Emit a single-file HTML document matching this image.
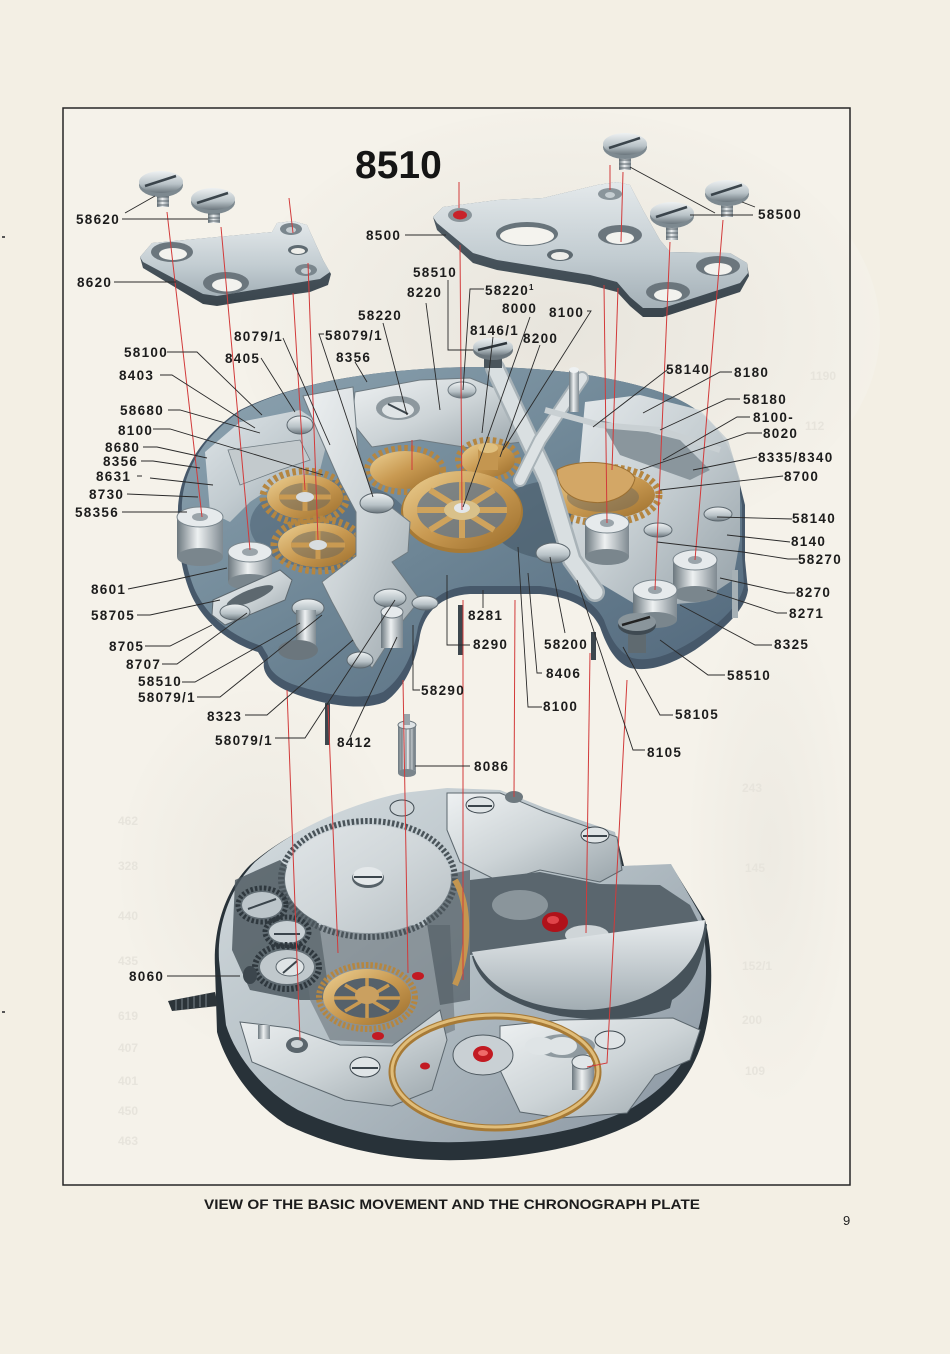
<!DOCTYPE html>
<html><head><meta charset="utf-8"><style>
html,body{margin:0;padding:0;background:#f3efe4;}
svg{display:block}
.l{font-family:"Liberation Sans",sans-serif;font-weight:bold;font-size:13.5px;letter-spacing:1.3px;fill:#1c1c1c}
.ld{fill:none;stroke:#2a2a2a;stroke-width:0.9}
.rd{fill:none;stroke:#d23a3a;stroke-width:1}
.gh{font-family:"Liberation Sans",sans-serif;font-weight:bold;font-size:12px;fill:#e7e4dc}
</style></head><body>
<svg width="950" height="1354" viewBox="0 0 950 1354" xmlns="http://www.w3.org/2000/svg">
<defs>
<linearGradient id="plate" x1="0" y1="0" x2="0" y2="1"><stop offset="0" stop-color="#e4e9eb"/><stop offset="0.6" stop-color="#c2ccd1"/><stop offset="1" stop-color="#a4b0b7"/></linearGradient>
<linearGradient id="plateEdge" x1="0" y1="0" x2="0" y2="1"><stop offset="0" stop-color="#56636c"/><stop offset="1" stop-color="#3a454d"/></linearGradient>
<linearGradient id="blue" x1="0" y1="0" x2="1" y2="1"><stop offset="0" stop-color="#8fa5b2"/><stop offset="0.5" stop-color="#6d8595"/><stop offset="1" stop-color="#50667a"/></linearGradient>
<linearGradient id="silver" x1="0" y1="0" x2="1" y2="1"><stop offset="0" stop-color="#eef1f2"/><stop offset="0.5" stop-color="#cdd4d7"/><stop offset="1" stop-color="#9aa5ab"/></linearGradient>
<linearGradient id="cyl" x1="0" y1="0" x2="1" y2="0"><stop offset="0" stop-color="#6b777e"/><stop offset="0.45" stop-color="#eef1f2"/><stop offset="1" stop-color="#7f8a91"/></linearGradient>
<linearGradient id="gold" x1="0" y1="0" x2="1" y2="1"><stop offset="0" stop-color="#ecd093"/><stop offset="0.5" stop-color="#c99a52"/><stop offset="1" stop-color="#9c6e2c"/></linearGradient>
<linearGradient id="mov" x1="0" y1="0" x2="1" y2="1"><stop offset="0" stop-color="#d8dfe2"/><stop offset="0.5" stop-color="#b3bec4"/><stop offset="1" stop-color="#8894a0"/></linearGradient>
<linearGradient id="rotor" x1="0" y1="0" x2="0" y2="1"><stop offset="0" stop-color="#e8ecee"/><stop offset="1" stop-color="#a2adb3"/></linearGradient>
<linearGradient id="head" x1="0" y1="0" x2="0" y2="1"><stop offset="0" stop-color="#eef1f2"/><stop offset="0.6" stop-color="#b8c2c7"/><stop offset="1" stop-color="#6b767d"/></linearGradient>
<radialGradient id="ghost" cx="0.5" cy="0.5" r="0.5"><stop offset="0" stop-color="#e6e3db"/><stop offset="1" stop-color="#f4f1e9"/></radialGradient>
</defs>

<rect width="950" height="1354" fill="#f3efe4"/>
<rect x="63" y="108" width="787" height="1077" fill="#f5f2ea"/>
<ellipse cx="560" cy="330" rx="320" ry="220" fill="url(#ghost)" opacity="0.9"/>
<ellipse cx="260" cy="870" rx="140" ry="180" fill="url(#ghost)" opacity="0.6"/>
<ellipse cx="770" cy="850" rx="80" ry="250" fill="url(#ghost)" opacity="0.5"/>
<g class="gh"><text x="810" y="380">1190</text><text x="805" y="430">112</text><text x="118" y="825">462</text><text x="118" y="870">328</text><text x="118" y="920">440</text><text x="118" y="965">435</text><text x="118" y="1020">619</text><text x="118" y="1052">407</text><text x="118" y="1085">401</text><text x="118" y="1115">450</text><text x="118" y="1145">463</text><text x="745" y="872">145</text><text x="742" y="970">152/1</text><text x="742" y="1024">200</text><text x="745" y="1075">109</text><text x="742" y="792">243</text></g>
<rect x="63" y="108" width="787" height="1077" fill="none" stroke="#262626" stroke-width="1.5"/>

<text x="355" y="178" font-family="Liberation Sans,sans-serif" font-weight="bold" font-size="39" fill="#151515">8510</text>

<!-- top-left plate -->
<path d="M140,257 L152,243 L272,232 L277,223 L293,221 L307,225 L323,260 L331,274 L328,285 L310,292 L247,301 L217,306 L203,304 L143,268 Z" fill="url(#plateEdge)"/>
<path d="M140,257 L152,243 L272,232 L277,223 L293,221 L307,225 L323,260 L330,272 L320,279 L247,291 L217,296 L203,294 L143,262 Z" fill="url(#plate)"/>
<ellipse cx="172" cy="252" rx="21" ry="10" fill="#6b767d"/><ellipse cx="173" cy="254" rx="14" ry="6" fill="#f2f2ee"/>
<ellipse cx="226" cy="283" rx="23" ry="11" fill="#6b767d"/><ellipse cx="227" cy="285" rx="15" ry="6.5" fill="#f2f2ee"/>
<ellipse cx="291" cy="229" rx="11" ry="6" fill="#7a868d"/><ellipse cx="291" cy="230" rx="5" ry="3" fill="#c5cdd1"/>
<ellipse cx="298" cy="250" rx="10" ry="5" fill="#5e6a71"/><ellipse cx="298" cy="251" rx="7" ry="3" fill="#eeeeea"/>
<ellipse cx="306" cy="270" rx="11" ry="6" fill="#7a868d"/><ellipse cx="306" cy="271" rx="5" ry="3" fill="#c5cdd1"/>

<g><rect x="157" y="193" width="12" height="14" fill="url(#cyl)"/><path d="M157,197h12M157,201h12M157,205h12" stroke="#5a656c" stroke-width="1"/>
<ellipse cx="161" cy="185" rx="22" ry="12" fill="#7d8990"/><ellipse cx="161" cy="182" rx="22" ry="11" fill="url(#head)"/><path d="M145,186 L176,176" stroke="#3b454c" stroke-width="2.5"/></g>
<g><rect x="208" y="210" width="12" height="13" fill="url(#cyl)"/><path d="M208,214h12M208,218h12M208,221h12" stroke="#5a656c" stroke-width="1"/>
<ellipse cx="213" cy="202" rx="22" ry="12" fill="#7d8990"/><ellipse cx="213" cy="199" rx="22" ry="11" fill="url(#head)"/><path d="M197,203 L228,193" stroke="#3b454c" stroke-width="2.5"/></g>

<!-- top-right plate -->
<path d="M433,217 L443,207 L497,200 L543,198 L597,185 L617,182 L630,185 L643,210 L660,240 L670,252 L730,253 L747,263 L749,276 L740,292 L697,306 L663,317 L643,317 L630,306 L617,292 L590,285 L497,270 L473,263 L437,230 Z" fill="url(#plateEdge)"/>
<path d="M433,217 L443,207 L497,200 L543,198 L597,185 L617,182 L630,185 L643,210 L660,240 L670,252 L730,253 L747,263 L748,273 L740,283 L697,297 L663,308 L643,308 L630,297 L617,282 L590,275 L497,260 L473,253 L437,223 Z" fill="url(#plate)"/>
<ellipse cx="527" cy="234" rx="31" ry="12" fill="#68747b"/><ellipse cx="527" cy="236" rx="27" ry="9" fill="#f4f3ee"/>
<ellipse cx="620" cy="235" rx="22" ry="10" fill="#6b767d"/><ellipse cx="620" cy="238" rx="14" ry="6" fill="#f2f2ee"/>
<ellipse cx="668" cy="292" rx="22" ry="10" fill="#6b767d"/><ellipse cx="668" cy="295" rx="14" ry="6" fill="#f2f2ee"/>
<ellipse cx="718" cy="266" rx="22" ry="10" fill="#6b767d"/><ellipse cx="718" cy="269" rx="14" ry="6" fill="#f2f2ee"/>
<ellipse cx="560" cy="255" rx="13" ry="6" fill="#5e6a71"/><ellipse cx="560" cy="256" rx="9" ry="4" fill="#eeeeea"/>
<ellipse cx="610" cy="194" rx="12" ry="6" fill="#8a959b"/><ellipse cx="610" cy="195" rx="5" ry="3" fill="#c5cdd1"/>
<ellipse cx="460" cy="215" rx="12" ry="7" fill="#8a959b"/><ellipse cx="460" cy="215" rx="7" ry="4.5" fill="#c8222a"/>

<g><rect x="619" y="156" width="12" height="14" fill="url(#cyl)"/><path d="M619,160h12M619,164h12M619,168h12" stroke="#5a656c"/>
<ellipse cx="625" cy="147" rx="22" ry="12" fill="#7d8990"/><ellipse cx="625" cy="144" rx="22" ry="11" fill="url(#head)"/><path d="M609,148 L640,138" stroke="#3b454c" stroke-width="2.5"/></g>
<g><rect x="721" y="203" width="12" height="14" fill="url(#cyl)"/><path d="M721,207h12M721,211h12M721,215h12" stroke="#5a656c"/>
<ellipse cx="727" cy="194" rx="22" ry="12" fill="#7d8990"/><ellipse cx="727" cy="191" rx="22" ry="11" fill="url(#head)"/><path d="M711,195 L742,185" stroke="#3b454c" stroke-width="2.5"/></g>
<g><rect x="666" y="225" width="12" height="15" fill="url(#cyl)"/><path d="M666,229h12M666,233h12M666,237h12" stroke="#5a656c"/>
<ellipse cx="672" cy="216" rx="22" ry="12" fill="#7d8990"/><ellipse cx="672" cy="213" rx="22" ry="11" fill="url(#head)"/><path d="M656,217 L687,207" stroke="#3b454c" stroke-width="2.5"/></g>

<!-- middle chronograph plate -->
<path d="M178,520 C176,480 195,440 240,410 C290,385 360,372 440,368 C520,364 600,372 660,392 C700,405 725,430 735,465 L745,505 L745,560 L748,590 C745,612 720,632 695,650 C670,665 650,672 630,668 C615,662 607,647 600,627 C590,607 570,597 540,594 L470,594 C440,596 425,612 420,635 C416,662 405,688 385,702 C360,712 320,704 290,692 C270,684 262,672 264,662 L258,652 C225,642 200,617 190,592 C180,567 178,540 178,520 Z" fill="#46586a"/>
<path d="M182,515 C180,478 198,440 242,410 C292,385 360,372 440,368 C520,364 600,372 660,392 C700,405 725,430 735,465 L742,505 L742,555 L744,585 C741,605 718,625 693,641 C668,656 650,662 632,658 C618,652 610,638 604,620 C594,600 572,590 540,586 L470,586 C440,588 425,604 418,627 C414,652 403,678 383,692 C360,702 322,694 292,684 C272,676 266,665 268,656 L262,646 C229,636 204,612 194,588 C184,562 182,538 182,515 Z" fill="url(#blue)"/>
<ellipse cx="330" cy="525" rx="80" ry="45" fill="#4e6476" opacity="0.6"/>
<ellipse cx="560" cy="520" rx="70" ry="40" fill="#3d4f5e" opacity="0.5"/>
<path d="M355,392 L420,380 L470,378 L505,392 L525,412 L522,442 L470,448 L420,440 L372,447 L352,422 Z" fill="url(#silver)" stroke="#6e7a81" stroke-width="1"/>
<ellipse cx="398" cy="408" rx="22" ry="12" fill="#8d989e"/><ellipse cx="398" cy="410" rx="16" ry="8" fill="#dfe4e6"/><path d="M388,404 L408,414" stroke="#3b454c" stroke-width="2"/>
<ellipse cx="462" cy="390" rx="14" ry="8" fill="url(#head)" stroke="#6e7a81"/>
<path d="M585,402 L640,395 L700,410 L728,440 L740,480 L740,540 L733,580 L700,602 L640,607 L598,582 L570,542 L578,480 Z" fill="url(#silver)" opacity="0.92"/>
<path d="M600,420 L680,440 L710,470 L690,480 L620,455 Z" fill="#8a969d"/>
<path d="M205,452 L240,422 L300,410 L330,430 L320,470 L280,482 L250,502 L230,522 L210,512 Z" fill="url(#silver)" opacity="0.85"/>
<path d="M228,450 L300,440 L310,460 L280,470 L240,485 Z" fill="#c3cacd" stroke="#6e7a81" stroke-width="0.8"/>
<g>
<ellipse cx="405" cy="470" rx="38" ry="22" fill="none" stroke="#b58640" stroke-width="6" stroke-dasharray="3.5 3"/>
<ellipse cx="405" cy="470" rx="35" ry="19" fill="url(#gold)"/>
<ellipse cx="488" cy="460" rx="30" ry="20" fill="none" stroke="#b58640" stroke-width="6" stroke-dasharray="3.5 3"/>
<ellipse cx="488" cy="460" rx="27" ry="17" fill="url(#gold)"/>
<rect x="478" y="448" width="20" height="22" fill="#c49650"/><ellipse cx="488" cy="448" rx="10" ry="5" fill="#e0c07f"/>
<ellipse cx="305" cy="497" rx="42" ry="26" fill="none" stroke="#b58640" stroke-width="7" stroke-dasharray="3.5 3"/>
<ellipse cx="305" cy="497" rx="38" ry="22" fill="url(#gold)"/>
<ellipse cx="305" cy="497" rx="26" ry="14" fill="#6f6a5c" opacity="0.55"/>
<path d="M279,497 H331 M305,483 V511" stroke="#c99a52" stroke-width="5"/>
<ellipse cx="305" cy="497" rx="9" ry="5" fill="#d8dde0"/>
<ellipse cx="318" cy="545" rx="44" ry="26" fill="none" stroke="#b58640" stroke-width="7" stroke-dasharray="3.5 3"/>
<ellipse cx="318" cy="545" rx="40" ry="22" fill="url(#gold)"/>
<ellipse cx="318" cy="545" rx="27" ry="14" fill="#6f6a5c" opacity="0.55"/>
<path d="M291,545 H345 M318,531 V559" stroke="#c99a52" stroke-width="5"/>
<ellipse cx="318" cy="545" rx="9" ry="5" fill="#d8dde0"/>
<ellipse cx="462" cy="512" rx="61" ry="41" fill="#a77a36"/>
<ellipse cx="462" cy="510" rx="59" ry="39" fill="url(#gold)"/>
<ellipse cx="462" cy="510" rx="45" ry="28" fill="#66788a" opacity="0.8"/>
<path d="M417,510 H507 M462,482 V538 M430,490 L494,530 M430,530 L494,490" stroke="#cfa35c" stroke-width="6"/>
<ellipse cx="462" cy="510" rx="18" ry="10" fill="#d9c18a"/>
<ellipse cx="462" cy="508" rx="8" ry="5" fill="#e4e8ea"/>
<ellipse cx="603" cy="495" rx="56" ry="28" fill="none" stroke="#b58640" stroke-width="7" stroke-dasharray="3.5 3"/>
<ellipse cx="603" cy="495" rx="52" ry="24" fill="url(#gold)"/>
<ellipse cx="603" cy="497" rx="36" ry="15" fill="#6f6a5c" opacity="0.5"/>
<path d="M557,470 C575,458 625,460 635,478 C632,495 610,505 590,502 C570,500 557,488 557,470 Z" fill="#d3a766" stroke="#9c7032" stroke-width="1"/>
</g>
<path d="M303,396 L353,387 L358,450 L372,492 L410,522 L408,552 L392,562 L420,600 L402,622 L372,668 L356,646 L332,602 L322,582 L356,556 L356,512 L340,482 L318,432 Z" fill="url(#silver)" stroke="#6e7a81" stroke-width="1"/>
<path d="M495,368 L548,480 L572,560 L595,592" stroke="#a9b3b8" stroke-width="20" fill="none" stroke-linecap="round"/>
<path d="M495,368 L548,480 L572,560 L595,592" stroke="#d9dfe1" stroke-width="15" fill="none" stroke-linecap="round"/>
<path d="M582,378 L540,440 L520,480" stroke="#a9b3b8" stroke-width="14" fill="none" stroke-linecap="round"/>
<path d="M582,378 L540,440 L520,480" stroke="#dde2e4" stroke-width="10" fill="none" stroke-linecap="round"/>
<path d="M545,410 L600,425 L660,430 L720,450" stroke="#c9d0d3" stroke-width="6" fill="none"/>
<rect x="569" y="370" width="10" height="42" fill="url(#cyl)"/><ellipse cx="574" cy="370" rx="5" ry="3" fill="#eef1f2"/>
<rect x="484" y="350" width="18" height="18" fill="#4a555c"/>
<ellipse cx="493" cy="350" rx="20" ry="10" fill="#6b767d"/><ellipse cx="493" cy="347" rx="20" ry="9" fill="url(#head)"/><path d="M478,350 L507,343" stroke="#2e363c" stroke-width="2.5"/>
<g>
<rect x="177" y="517" width="46" height="40" fill="url(#cyl)"/><ellipse cx="200" cy="557" rx="23" ry="9" fill="#7a868d"/><ellipse cx="200" cy="517" rx="23" ry="10" fill="#e6eaec" stroke="#7a868d"/><ellipse cx="200" cy="517" rx="8" ry="4" fill="#9aa4aa"/>
<rect x="228" y="552" width="44" height="30" fill="url(#cyl)"/><ellipse cx="250" cy="582" rx="22" ry="8" fill="#7a868d"/><ellipse cx="250" cy="552" rx="22" ry="10" fill="#e6eaec" stroke="#7a868d"/><ellipse cx="250" cy="552" rx="8" ry="4" fill="#9aa4aa"/>
<path d="M213,600 L280,570 L292,580 L285,600 L225,625 L212,615 Z" fill="url(#silver)" stroke="#5d686f"/>
<ellipse cx="250" cy="596" rx="25" ry="6" fill="#5d686f" transform="rotate(-22 250 596)"/>
<ellipse cx="235" cy="612" rx="15" ry="8" fill="url(#head)" stroke="#5d686f"/>
<ellipse cx="308" cy="608" rx="16" ry="9" fill="url(#head)" stroke="#5d686f"/>
<rect x="296" y="610" width="20" height="40" fill="url(#cyl)"/>
<ellipse cx="298" cy="650" rx="20" ry="10" fill="#6b767d"/>
<ellipse cx="390" cy="598" rx="16" ry="9" fill="url(#head)" stroke="#5d686f"/>
<rect x="381" y="612" width="22" height="36" fill="url(#cyl)"/><ellipse cx="392" cy="612" rx="11" ry="6" fill="#e6eaec" stroke="#6b767d"/>
<ellipse cx="425" cy="603" rx="13" ry="7" fill="url(#head)" stroke="#5d686f"/>
<ellipse cx="360" cy="660" rx="13" ry="8" fill="url(#head)" stroke="#5d686f"/>
<ellipse cx="377" cy="503" rx="17" ry="10" fill="url(#head)" stroke="#5d686f"/>
<ellipse cx="300" cy="425" rx="13" ry="9" fill="url(#head)" stroke="#5d686f"/>
<ellipse cx="553" cy="553" rx="17" ry="10" fill="url(#head)" stroke="#5d686f"/>
<rect x="585" y="523" width="44" height="34" fill="url(#cyl)"/><ellipse cx="607" cy="557" rx="22" ry="8" fill="#7a868d"/><ellipse cx="607" cy="523" rx="22" ry="10" fill="#e6eaec" stroke="#7a868d"/><ellipse cx="607" cy="523" rx="7" ry="4" fill="#9aa4aa"/>
<rect x="673" y="560" width="44" height="34" fill="url(#cyl)"/><ellipse cx="695" cy="594" rx="22" ry="8" fill="#7a868d"/><ellipse cx="695" cy="560" rx="22" ry="10" fill="#e6eaec" stroke="#7a868d"/><ellipse cx="695" cy="560" rx="7" ry="4" fill="#9aa4aa"/>
<rect x="633" y="590" width="44" height="30" fill="url(#cyl)"/><ellipse cx="655" cy="620" rx="22" ry="8" fill="#7a868d"/><ellipse cx="655" cy="590" rx="22" ry="10" fill="#e6eaec" stroke="#7a868d"/><ellipse cx="655" cy="590" rx="7" ry="4" fill="#9aa4aa"/>
<ellipse cx="718" cy="514" rx="14" ry="7" fill="url(#head)" stroke="#5d686f"/>
<ellipse cx="658" cy="530" rx="14" ry="7" fill="url(#head)" stroke="#5d686f"/>
<rect x="628" y="625" width="18" height="28" fill="#5f6a70"/>
<ellipse cx="637" cy="625" rx="19" ry="10" fill="#3f4a52"/><ellipse cx="637" cy="622" rx="19" ry="9" fill="#8a959b"/><path d="M622,625 L650,617" stroke="#222" stroke-width="2.5"/>
<rect x="732" y="570" width="6" height="48" fill="#a6b0b5"/>
</g>
<rect x="325" y="703" width="5" height="42" fill="#3c464d"/>
<rect x="458" y="605" width="5" height="50" fill="#3c464d"/>
<rect x="591" y="632" width="5" height="28" fill="#3c464d"/>
<rect x="398" y="725" width="18" height="48" fill="url(#cyl)"/>
<path d="M402,728V770M406,728V772M410,728V772M414,728V770" stroke="#6a757c" stroke-width="1"/>
<ellipse cx="407" cy="725" rx="9" ry="4" fill="#dfe4e6" stroke="#6a757c"/>
<rect x="404" y="714" width="6" height="11" fill="#9aa4aa"/>
<ellipse cx="407" cy="773" rx="9" ry="4" fill="#7a858c"/>

<!-- bottom movement -->
<path d="M215,967 C213,930 225,890 250,865 C290,830 350,805 400,795 L445,790 L500,792 L545,812 L617,837 L625,870 L673,868 L705,920 C715,960 712,1010 703,1040 C690,1080 670,1100 640,1120 C600,1142 540,1157 463,1160 C400,1162 340,1150 287,1125 C250,1102 225,1062 217,1032 Z" fill="#283239"/>
<path d="M219,960 C217,925 230,888 255,862 C294,828 352,803 402,793 L447,788 L500,790 L545,808 L615,832 L622,866 L671,864 L701,916 C709,954 707,1000 698,1030 C685,1068 662,1090 632,1108 C592,1128 535,1140 462,1142 C400,1144 345,1132 298,1110 C262,1090 235,1055 226,1025 Z" fill="url(#mov)"/>
<!-- dark recesses -->
<path d="M235,880 L280,860 L300,880 L320,930 L330,1000 L300,1000 L250,990 L232,950 Z" fill="#4f5a61" opacity="0.85"/>
<path d="M300,925 L450,925 L455,1030 L420,1045 L330,1040 L310,1000 Z" fill="#6a757c" opacity="0.6"/>
<path d="M420,880 L470,870 L470,1000 L440,1005 Z" fill="#4f5a61" opacity="0.7"/>
<ellipse cx="368" cy="879" rx="87" ry="58" fill="none" stroke="#4a545a" stroke-width="6" stroke-dasharray="2.5 2"/>
<ellipse cx="368" cy="879" rx="83" ry="54" fill="#d3d9dc"/>
<ellipse cx="368" cy="879" rx="83" ry="54" fill="url(#silver)" opacity="0.5"/>
<ellipse cx="368" cy="878" rx="16" ry="10" fill="#566168"/><ellipse cx="368" cy="876" rx="15" ry="9" fill="#e4e8ea"/><path d="M354,877 H382" stroke="#3b454c" stroke-width="2"/>
<ellipse cx="262" cy="905" rx="24" ry="17" fill="none" stroke="#2f383e" stroke-width="5" stroke-dasharray="2.5 2"/><ellipse cx="262" cy="905" rx="20" ry="13" fill="#bcc5ca"/><path d="M248,909 L276,899" stroke="#3b454c" stroke-width="2"/>
<ellipse cx="287" cy="932" rx="22" ry="15" fill="none" stroke="#2f383e" stroke-width="5" stroke-dasharray="2.5 2"/><ellipse cx="287" cy="932" rx="18" ry="11" fill="#c8d0d4"/><path d="M274,934 H300" stroke="#3b454c" stroke-width="2"/>
<ellipse cx="287" cy="967" rx="32" ry="22" fill="none" stroke="#2f383e" stroke-width="6" stroke-dasharray="2.5 2"/><ellipse cx="287" cy="967" rx="27" ry="17" fill="#c0c8cc"/><ellipse cx="290" cy="967" rx="14" ry="9" fill="#dfe4e6" stroke="#5a656c"/><path d="M283,973 L297,961" stroke="#3b454c" stroke-width="2"/>
<ellipse cx="367" cy="997" rx="48" ry="32" fill="none" stroke="#b58640" stroke-width="6" stroke-dasharray="2.5 2"/>
<ellipse cx="367" cy="997" rx="44" ry="28" fill="url(#gold)"/>
<ellipse cx="367" cy="998" rx="33" ry="20" fill="#56616a"/>
<path d="M334,998 H400 M367,978 V1018 M345,985 L389,1011 M345,1011 L389,985" stroke="#c99a52" stroke-width="3.5"/>
<ellipse cx="367" cy="995" rx="12" ry="9" fill="#caa060"/>
<path d="M240,1022 L290,1028 L340,1045 L392,1046 L440,1010 L447,1040 L432,1090 L392,1106 L345,1100 L300,1082 L252,1062 Z" fill="url(#silver)" stroke="#5c676e" stroke-width="1"/>
<ellipse cx="365" cy="1067" rx="15" ry="10" fill="#dfe4e6" stroke="#3e484f"/><path d="M352,1068 H378" stroke="#3b454c" stroke-width="2"/>
<ellipse cx="297" cy="1045" rx="11" ry="8" fill="#5a656c"/><ellipse cx="297" cy="1044" rx="6" ry="4" fill="#cdd4d7"/>
<rect x="258" y="1025" width="12" height="14" fill="url(#cyl)"/>
<ellipse cx="250" cy="975" rx="7" ry="9" fill="#3c464d"/>
<path d="M447,793 L500,793 L545,812 L617,837 L622,870 L600,882 L540,870 L500,882 L460,862 L447,830 Z" fill="url(#silver)" stroke="#5c676e" stroke-width="1"/>
<ellipse cx="480" cy="805" rx="14" ry="8" fill="#dfe4e6" stroke="#3e484f"/><path d="M468,806 H492" stroke="#3b454c" stroke-width="2"/>
<ellipse cx="595" cy="835" rx="14" ry="8" fill="#dfe4e6" stroke="#3e484f"/><path d="M583,836 H607" stroke="#3b454c" stroke-width="2"/>
<ellipse cx="514" cy="797" rx="9" ry="6" fill="#6e797f"/>
<ellipse cx="402" cy="808" rx="12" ry="8" fill="#cfd6d9" stroke="#3e484f"/>
<path d="M470,880 L540,872 L600,884 L660,885 L690,905 L700,925 L470,955 Z" fill="#5a666e"/>
<ellipse cx="520" cy="905" rx="28" ry="15" fill="#8a959b"/>
<ellipse cx="555" cy="922" rx="13" ry="10" fill="#b0121a"/><ellipse cx="553" cy="920" rx="6" ry="4" fill="#e0444a"/>
<ellipse cx="587" cy="935" rx="22" ry="10" fill="#cfd5d8"/>
<path d="M455,880 C470,905 470,950 455,985" stroke="#c49650" stroke-width="6" fill="none"/>
<path d="M472,956 L707,924 C704,958 696,985 672,1000 L670,1008 C640,1020 600,1022 560,1016 C510,1006 478,985 472,956 Z" fill="#46525a"/>
<path d="M472,952 L705,920 C702,970 650,1008 585,1010 C530,1010 485,990 472,952 Z" fill="url(#rotor)"/>
<path d="M500,1026 L560,1020 L673,1018 L700,1030 L690,1060 L655,1075 L627,1113 L560,1118 L520,1112 L500,1070 Z" fill="url(#silver)" stroke="#5c676e" stroke-width="1"/>
<ellipse cx="565" cy="1046" rx="30" ry="12" fill="#8f9aa0"/><ellipse cx="540" cy="1046" rx="15" ry="9" fill="#dfe4e6"/><ellipse cx="562" cy="1046" rx="15" ry="9" fill="#dfe4e6"/>
<ellipse cx="610" cy="1040" rx="15" ry="9" fill="#dfe4e6" stroke="#3e484f"/>
<rect x="572" y="1062" width="22" height="28" fill="url(#cyl)"/><ellipse cx="583" cy="1062" rx="11" ry="7" fill="#e1e6e8" stroke="#5a656c"/>
<ellipse cx="495" cy="1072" rx="103" ry="56" fill="none" stroke="#a77a36" stroke-width="7"/>
<ellipse cx="495" cy="1071" rx="103" ry="56" fill="none" stroke="#e0bd7a" stroke-width="3"/>
<ellipse cx="483" cy="1055" rx="30" ry="20" fill="#c9d0d4" stroke="#4e5960"/>
<ellipse cx="483" cy="1054" rx="10" ry="8" fill="#c21a22"/><ellipse cx="483" cy="1053" rx="5" ry="3" fill="#ef6a6a"/>
<ellipse cx="418" cy="976" rx="6" ry="4" fill="#c21a22"/>
<ellipse cx="378" cy="1036" rx="6" ry="4" fill="#c21a22"/>
<ellipse cx="425" cy="1066" rx="5" ry="3.5" fill="#c21a22"/>
<path d="M168,1001 L215,992 L218,1006 L172,1011 Z" fill="#2c3439"/>
<path d="M176,999V1010M182,998V1010M188,997V1009M194,996V1008M200,995V1007M206,994V1007" stroke="#7a858c" stroke-width="1"/>

<g class="rd">
<path d="M167,212 L202,517"/>
<path d="M221,227 L250,550"/>
<path d="M289,198 L293,233 M293,293 L305,490"/>
<path d="M308,263 L318,540"/>
<path d="M459,182 L459,208 M460,245 L462,510"/>
<path d="M610,165 L610,190"/>
<path d="M623,172 L621,242"/>
<path d="M604,285 L607,523"/>
<path d="M618,288 L612,470"/>
<path d="M670,242 L655,590"/>
<path d="M723,220 L695,560"/>
<path d="M287,690 L300,1040"/>
<path d="M328,705 L338,953"/>
<path d="M403,680 L408,973"/>
<path d="M463,600 L463,980"/>
<path d="M515,600 L514,797"/>
<path d="M590,653 L586,933"/>
<path d="M627,680 L607,1063 L587,1067"/>
<path d="M412,440 L412,470"/>
</g>

<g class="ld">
<path d="M122,219 H208 M125,213 L155,196"/>
<path d="M114,282 H176"/>
<path d="M405,235 H446"/>
<path d="M448,280 V350 H473"/>
<path d="M426,303 L440,410"/>
<path d="M383,323 L407,415"/>
<path d="M283,338 L330,445"/>
<path d="M324,334 H319 L373,497"/>
<path d="M167,352 H197 L262,415"/>
<path d="M261,358 L295,412"/>
<path d="M355,362 L367,382"/>
<path d="M160,375 H172 L255,428"/>
<path d="M168,410 H180 L260,433"/>
<path d="M153,429 H170 L323,475"/>
<path d="M143,447 H157 L207,458"/>
<path d="M141,461 H153 L200,468"/>
<path d="M137,476 H142 M150,478 L213,485"/>
<path d="M127,494 L198,497"/>
<path d="M122,512 H187"/>
<path d="M128,589 L173,580 L227,568"/>
<path d="M137,615 H150 L220,600"/>
<path d="M145,646 H170 L212,625"/>
<path d="M162,664 H177 L247,613"/>
<path d="M182,682 H195 L300,623"/>
<path d="M197,697 H220 L322,615"/>
<path d="M245,715 H267 L353,640"/>
<path d="M275,738 H305 L395,600"/>
<path d="M350,737 L397,637"/>
<path d="M420,690 H413 V625"/>
<path d="M470,645 H447 V575"/>
<path d="M483,608 V590"/>
<path d="M565,633 L550,557"/>
<path d="M542,673 H537 L528,573"/>
<path d="M542,707 H528 L518,547"/>
<path d="M645,750 H633 L577,580"/>
<path d="M673,715 H660 L623,647"/>
<path d="M725,675 H708 L660,640"/>
<path d="M772,645 H755 L680,605"/>
<path d="M787,613 H777 L707,590"/>
<path d="M795,593 H787 L720,578"/>
<path d="M798,559 H788 L743,552 L657,542"/>
<path d="M790,542 L727,535"/>
<path d="M792,519 L717,517"/>
<path d="M783,476 L660,490"/>
<path d="M757,457 L693,470"/>
<path d="M762,433 H747 L640,470"/>
<path d="M750,417 H737 L663,460"/>
<path d="M740,399 H727 L660,430"/>
<path d="M732,372 H720 L643,413"/>
<path d="M667,370 L593,427"/>
<path d="M753,215 H690 M630,167 L715,213 M755,207 L742,202"/>
<path d="M484,289 H470 L463,390"/>
<path d="M530,317 L463,507"/>
<path d="M587,311 H591 L503,450"/>
<path d="M493,337 L482,433"/>
<path d="M540,345 L500,457"/>
<path d="M470,766 H415"/>
<path d="M167,976 H240"/>
</g>

<g class="l">
<text x="76" y="224">58620</text>
<text x="77" y="287">8620</text>
<text x="366" y="240">8500</text>
<text x="413" y="277">58510</text>
<text x="407" y="297">8220</text>
<text x="358" y="320">58220</text>
<text x="234" y="341">8079/1</text>
<text x="325" y="340">58079/1</text>
<text x="124" y="357">58100</text>
<text x="225" y="363">8405</text>
<text x="336" y="362">8356</text>
<text x="119" y="380">8403</text>
<text x="120" y="415">58680</text>
<text x="118" y="435">8100</text>
<text x="105" y="452">8680</text>
<text x="103" y="466">8356</text>
<text x="96" y="481">8631</text>
<text x="89" y="499">8730</text>
<text x="75" y="517">58356</text>
<text x="91" y="594">8601</text>
<text x="91" y="620">58705</text>
<text x="109" y="651">8705</text>
<text x="126" y="669">8707</text>
<text x="138" y="686">58510</text>
<text x="138" y="702">58079/1</text>
<text x="207" y="721">8323</text>
<text x="215" y="745">58079/1</text>
<text x="337" y="747">8412</text>
<text x="421" y="695">58290</text>
<text x="473" y="649">8290</text>
<text x="468" y="620">8281</text>
<text x="544" y="649">58200</text>
<text x="546" y="678">8406</text>
<text x="543" y="711">8100</text>
<text x="647" y="757">8105</text>
<text x="675" y="719">58105</text>
<text x="727" y="680">58510</text>
<text x="774" y="649">8325</text>
<text x="789" y="618">8271</text>
<text x="796" y="597">8270</text>
<text x="798" y="564">58270</text>
<text x="791" y="546">8140</text>
<text x="792" y="523">58140</text>
<text x="784" y="481">8700</text>
<text x="758" y="462">8335/8340</text>
<text x="763" y="438">8020</text>
<text x="753" y="422">8100-</text>
<text x="743" y="404">58180</text>
<text x="734" y="377">8180</text>
<text x="666" y="374">58140</text>
<text x="758" y="219">58500</text>
<text x="485" y="295">58220<tspan font-size="8" dy="-5">1</tspan></text>
<text x="502" y="313">8000</text>
<text x="549" y="317">8100</text>
<text x="470" y="335">8146/1</text>
<text x="523" y="343">8200</text>
<text x="474" y="771">8086</text>
<text x="129" y="981">8060</text>
</g>

<text x="204" y="1209" font-family="Liberation Sans,sans-serif" font-weight="bold" font-size="13.5" fill="#1c1c1c" textLength="496" lengthAdjust="spacingAndGlyphs">VIEW OF THE BASIC MOVEMENT AND THE CHRONOGRAPH PLATE</text>
<text x="843" y="1225" font-family="Liberation Sans,sans-serif" font-size="13" fill="#222">9</text>
<rect x="2" y="236" width="3" height="2" fill="#555"/>
<rect x="2" y="1011" width="3" height="2" fill="#555"/>
</svg>
</body></html>
